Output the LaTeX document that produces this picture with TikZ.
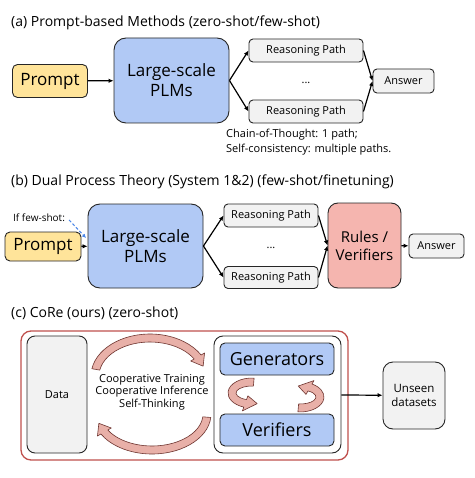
\documentclass[tikz,border=0pt]{standalone}
\usepackage{fontspec}
\setmainfont{Open Sans}
\usepackage{xcolor}
\usepackage{tikz}
\usetikzlibrary{arrows.meta}

\definecolor{promptyellow}{HTML}{FFE49A}
\definecolor{plmblue}{HTML}{B1C9F5}
\definecolor{pathgray}{HTML}{F2F2F2}
\definecolor{rulepink}{HTML}{F5B5AF}
\definecolor{corered}{HTML}{C0504D}
\definecolor{loopfill}{HTML}{E8B0A8}
\definecolor{loopline}{HTML}{6E3530}
\definecolor{fewblue}{HTML}{4A86E8}

\tikzset{
  box/.style={draw=black!85, line width=0.9pt, rounded corners=4pt, align=center, inner sep=0pt},
  promptbox/.style={box, fill=promptyellow, rounded corners=5pt, font=\fontsize{17}{20}\selectfont},
  plmbox/.style={box, fill=plmblue, rounded corners=12pt, font=\fontsize{17}{20}\selectfont},
  pathbox/.style={box, fill=pathgray, font=\fontsize{11}{13}\selectfont},
  rulebox/.style={box, fill=rulepink, rounded corners=10pt, font=\fontsize{15}{18}\selectfont},
  agentbox/.style={box, fill=plmblue, rounded corners=5pt, font=\fontsize{18}{21}\selectfont},
  plainbox/.style={box, fill=pathgray, rounded corners=9pt, font=\fontsize{11}{13}\selectfont},
  small/.style={font=\fontsize{11}{15}\selectfont, inner sep=0pt},
  title/.style={anchor=west, font=\fontsize{14}{16}\selectfont, inner sep=0pt},
  flow/.style={-{Latex[length=5pt,width=4.5pt]}, line width=1.2pt},
  loopstyle/.style={fill=loopfill, draw=loopline, line width=0.6pt, line join=round},
}

% fat curved arrow: centre, radii, start angle, end angle, tip offset
\newcommand{\loopbend}[7]{%
  \pgfmathsetmacro{\rxo}{#3+4}\pgfmathsetmacro{\ryo}{#4+4}%
  \pgfmathsetmacro{\rxi}{#3-4}\pgfmathsetmacro{\ryi}{#4-4}%
  \pgfmathsetmacro{\tipang}{#6+#7}%
  \filldraw[loopstyle] ({#1+\rxo*cos(#5)},{#2+\ryo*sin(#5)})
    arc[start angle=#5, end angle=#6, x radius=\rxo, y radius=\ryo]
    -- ({#1+(#3+8)*cos(#6)},{#2+(#4+8)*sin(#6)})
    -- ({#1+#3*cos(\tipang)},{#2+#4*sin(\tipang)})
    -- ({#1+(#3-8)*cos(#6)},{#2+(#4-8)*sin(#6)})
    -- ({#1+\rxi*cos(#6)},{#2+\ryi*sin(#6)})
    arc[start angle=#6, end angle=#5, x radius=\rxi, y radius=\ryi]
    -- cycle;}

\begin{document}
\begin{tikzpicture}[x=1pt, y=-1pt]
  \useasboundingbox[fill=white] (0,0) rectangle (474,478);

  % (a) prompt-based methods
  \node[title] (titlea) at (11,23) {(a) Prompt-based Methods (zero-shot/few-shot)};
  \node[promptbox, minimum width=75, minimum height=33] (prompta) at (50,81) {Prompt};
  \node[plmbox, minimum width=115, minimum height=85] (plma) at (171.5,80.5) {Large-scale\\PLMs};
  \node[pathbox, minimum width=114, minimum height=23] (patha1) at (306,50.5) {Reasoning Path};
  \node[pathbox, minimum width=114, minimum height=23] (patha2) at (306,111.5) {Reasoning Path};
  \node[small] (dotsa) at (306,83) {...};
  \node[pathbox, minimum width=61, minimum height=24] (answera) at (403.5,81) {Answer};
  \node[small, anchor=west, align=left] (notea) at (226,142.5) {Chain-of-Thought: 1 path;\\Self-consistency: multiple paths.};
  \draw[flow] (prompta) -- (plma);
  \draw[flow] (plma.east) -- (patha1.west);
  \draw[flow] (plma.east) -- (patha2.west);
  \draw[flow] (patha1.east) -- (answera.west);
  \draw[flow] (patha2.east) -- (answera.west);

  % (b) dual process theory
  \node[title] (titleb) at (11,182) {(b) Dual Process Theory (System 1\&2) (few-shot/finetuning)};
  \node[small, anchor=west, font=\fontsize{10}{12}\selectfont] (iffew) at (13,218) {If few-shot:};
  \node[promptbox, minimum width=76, minimum height=29] (promptb) at (43,246.5) {Prompt};
  \node[plmbox, minimum width=115, minimum height=84] (plmb) at (145.5,246) {Large-scale\\PLMs};
  \node[pathbox, minimum width=94, minimum height=23] (pathb1) at (271,215.5) {Reasoning Path};
  \node[pathbox, minimum width=94, minimum height=22] (pathb2) at (271,277.5) {Reasoning Path};
  \node[small] (dotsb) at (271,248) {...};
  \node[rulebox, minimum width=73, minimum height=85] (rules) at (364.5,245.5) {Rules /\\Verifiers};
  \node[pathbox, minimum width=55, minimum height=24] (answerb) at (436.5,246) {Answer};
  \coordinate (fewtip) at (86,238);
  \draw[-{Latex[length=4pt,width=4pt]}, fewblue, line width=1pt, dash pattern=on 3pt off 2pt] ([xshift=4pt, yshift=-2pt]iffew.east) -- (fewtip);
  \draw[flow] (promptb) -- (plmb);
  \draw[flow] (plmb.east) -- (pathb1.west);
  \draw[flow] (plmb.east) -- (pathb2.west);
  \draw[flow] (pathb1.east) -- (rules.west);
  \draw[flow] (pathb2.east) -- (rules.west);
  \draw[flow] (rules) -- (answerb);

  % (c) CoRe
  \node[title] (titlec) at (11,313) {(c) CoRe (ours) (zero-shot)};
  \node[draw=corered, line width=1.3pt, rounded corners=10pt, minimum width=327, minimum height=129] (core) at (184.5,395.5) {};
  \node[plainbox, rounded corners=8pt, minimum width=60, minimum height=117] (data) at (57,394.5) {Data};
  \node[box, fill=white, rounded corners=9pt, minimum width=127, minimum height=117] (agents) at (277.5,394.5) {};
  \node[agentbox, minimum width=114, minimum height=32] (gen) at (277,359) {Generators};
  \node[agentbox, minimum width=114, minimum height=32] (ver) at (277,430) {Verifiers};
  \node[small, align=center, font=\fontsize{11}{12.5}\selectfont] (coop) at (152,392) {Cooperative Training\\Cooperative Inference\\Self-Thinking};
  \node[plainbox, rounded corners=10pt, minimum width=62, minimum height=67, font=\fontsize{11.5}{14}\selectfont] (unseen) at (414,395.5) {Unseen\\datasets};
  \draw[flow] (agents) -- (unseen);
  \loopbend{150}{376}{55}{38}{190}{330}{15}
  \loopbend{152}{414}{55}{36}{5}{150}{15}
  \loopbend{252}{393}{20}{11}{-85}{-250}{-35}
  \loopbend{300}{397}{20}{11}{95}{-60}{-35}
\end{tikzpicture}
\end{document}
